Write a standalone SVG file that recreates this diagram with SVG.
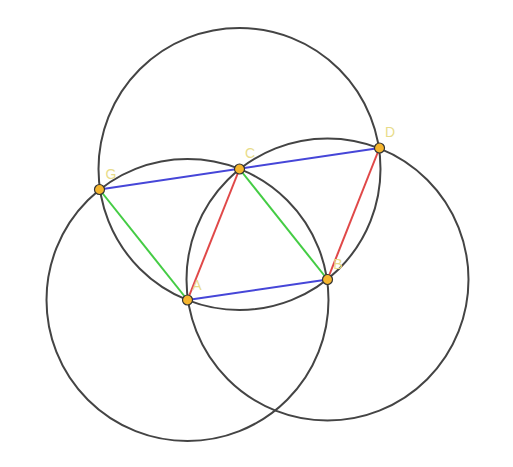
<svg xmlns="http://www.w3.org/2000/svg" width="513" height="467" viewBox="0 0 513 467">
<style>
.circ{fill:none;stroke:#444;stroke-width:2}
.seg{stroke-width:2;fill:none}
.blue{stroke:#4646d8}
.green{stroke:#44cc44}
.red{stroke:#e04848}
.pt{fill:#f5b52e;stroke:#333;stroke-width:1.2}
.lbl{font-family:"Liberation Sans",Arial,sans-serif;font-size:14px;fill:#e8dc8a;text-anchor:middle}
</style>
<rect width="513" height="467" fill="#fff"/>
<g id="circles">
<circle class="circ" cx="187.5" cy="300" r="141"/>
<circle class="circ" cx="327.5" cy="279.5" r="141"/>
<circle class="circ" cx="239.5" cy="169" r="141"/>
</g>
<g id="connectors">
<line class="seg blue" x1="99.5" y1="189.5" x2="379.5" y2="148"/>
<line class="seg blue" x1="187.5" y1="300" x2="327.5" y2="279.5"/>
<line class="seg green" x1="99.5" y1="189.5" x2="187.5" y2="300"/>
<line class="seg green" x1="239.5" y1="169" x2="327.5" y2="279.5"/>
<line class="seg red" x1="187.5" y1="300" x2="239.5" y2="169"/>
<line class="seg red" x1="327.5" y1="279.5" x2="379.5" y2="148"/>
</g>
<g id="G"><circle class="pt" cx="99.5" cy="189.5" r="5"/><text class="lbl" x="111" y="179">G</text></g>
<g id="C"><circle class="pt" cx="239.5" cy="169" r="5"/><text class="lbl" x="250" y="158">C</text></g>
<g id="D"><circle class="pt" cx="379.5" cy="148" r="5"/><text class="lbl" x="390" y="137">D</text></g>
<g id="A"><circle class="pt" cx="187.5" cy="300" r="5"/><text class="lbl" x="197" y="290">A</text></g>
<g id="B"><circle class="pt" cx="327.5" cy="279.5" r="5"/><text class="lbl" x="338" y="269">B</text></g>
</svg>
